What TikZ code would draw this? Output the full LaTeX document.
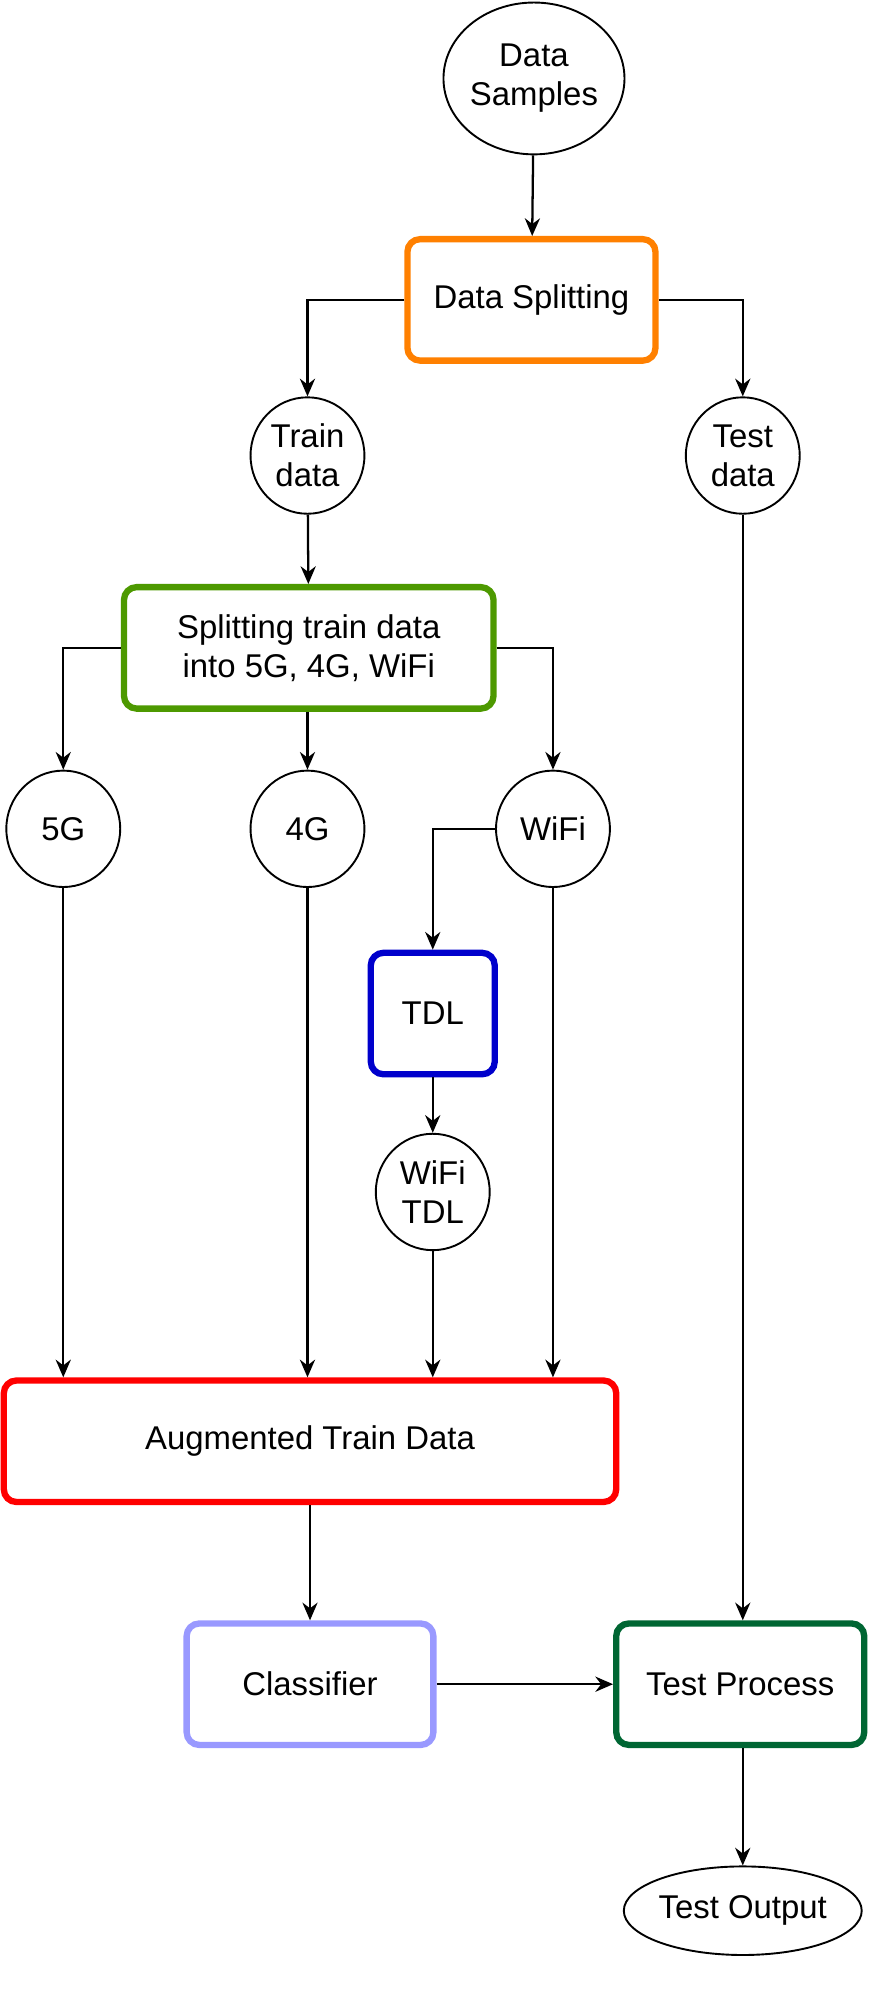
\documentclass[tikz,border=0pt]{standalone}
\usepackage{fontspec}
\setmainfont{Liberation Sans}
\usetikzlibrary{arrows.meta,shapes.geometric}
\begin{document}
\begin{tikzpicture}[x=1pt,y=-1pt,
  every node/.style={font=\fontsize{26}{31}\selectfont, align=center, inner sep=0pt},
  circ/.style={draw, line width=1.5pt, ellipse, minimum width=90pt, minimum height=92pt},
  box/.style={rounded corners=10pt, line width=5pt, draw, minimum width=#1, minimum height=96pt},
  arr/.style={-{Stealth[length=14pt,width=12pt]}, line width=1.8pt}]
\path[use as bounding box] (0,0) rectangle (690,1579);
\node[draw, line width=1.5pt, ellipse, minimum width=134pt, minimum height=120pt] (ds) at (422,62) {Data\\Samples};
\node[box=196pt, draw={rgb,255:red,255;green,128;blue,0}] (split) at (420,237) {Data Splitting};
\node[circ] (train) at (243,360) {Train\\data};
\node[circ] (test) at (587,360) {Test\\data};
\node[box=292pt, draw={rgb,255:red,77;green,153;blue,0}] (sp2) at (244,512) {Splitting train data\\into 5G, 4G, WiFi};
\node[circ] (g5) at (50,655) {5G};
\node[circ] (g4) at (243,655) {4G};
\node[circ] (wifi) at (437,655) {WiFi};
\node[box=98pt, draw={rgb,255:red,0;green,0;blue,204}] (tdl) at (342,801) {TDL};
\node[circ] (wt) at (342,942) {WiFi\\TDL};
\node[box=484pt, draw=red] (aug) at (245,1139) {Augmented Train Data};
\node[box=195pt, draw={rgb,255:red,153;green,153;blue,255}] (cls) at (245,1331) {Classifier};
\node[box=196pt, draw={rgb,255:red,0;green,102;blue,51}] (tp) at (585,1331) {Test Process};
\node[draw, line width=1.5pt, ellipse, minimum width=156pt, minimum height=70pt] (to) at (587,1510) {Test Output};
\draw[arr] (ds) -- (split);
\draw[arr] (split.west) -| (train.north);
\draw[arr] (split.east) -| (test.north);
\draw[arr] (train) -- (sp2);
\draw[arr] (sp2.west) -| (g5.north);
\draw[arr] (sp2.south -| g4) -- (g4.north);
\draw[arr] (sp2.east) -| (wifi.north);
\draw[arr] (wifi.west) -| (tdl.north);
\draw[arr] (tdl) -- (wt);
\draw[arr] (g5.south) -- (g5.south |- aug.north);
\draw[arr] (g4.south) -- (g4.south |- aug.north);
\draw[arr] (wt.south) -- (wt.south |- aug.north);
\draw[arr] (wifi.south) -- (wifi.south |- aug.north);
\draw[arr] (aug.south -| cls) -- (cls.north);
\draw[arr] (test.south) -- (test.south |- tp.north);
\draw[arr] (cls) -- (tp);
\draw[arr] (tp.south -| to) -- (to.north);
\end{tikzpicture}
\end{document}
